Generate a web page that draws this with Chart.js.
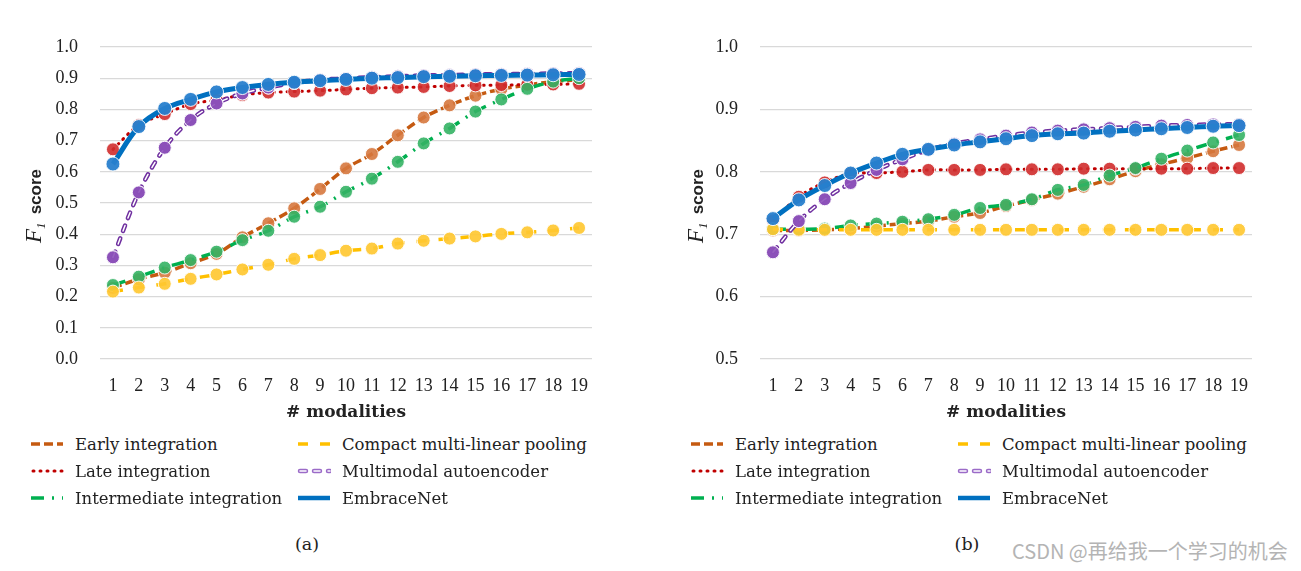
<!DOCTYPE html>
<html>
<head>
<meta charset="utf-8">
<script src="https://cdn.jsdelivr.net/npm/chart.js@4.4.1/dist/chart.umd.min.js"></script>
<style>
  body { margin: 0; width: 1301px; height: 571px; background: #fff; position: relative; overflow: hidden; font-family: 'DejaVu Serif', serif; color: #222; }
  canvas { position: absolute; top: 0; }
  .ytitle { position: absolute; top: 206px; transform: translate(-50%, -50%) rotate(-90deg); white-space: nowrap; }
  .ytitle i { font-family: 'Liberation Serif', serif; font-size: 23px; }
  .ytitle sub { font-family: 'Liberation Serif', serif; font-style: italic; font-size: 13px; }
  .ytitle b { font-family: 'Liberation Sans', sans-serif; font-size: 17px; margin-left: 3px; }
  .legend { position: absolute; top: 434px; }
  .legend .item { position: absolute; display: flex; align-items: center; white-space: nowrap; font-size: 16.5px; height: 20px; }
  .legend svg { margin-right: 11px; }
  .caption { position: absolute; top: 534px; font-size: 17.5px; transform: translateX(-50%); }
  .mark { position: absolute; left: 1012px; top: 536px; font-family: 'Noto Sans CJK SC', sans-serif; font-size: 20px; color: #b4b4b4; white-space: nowrap; }
</style>
</head>
<body>
<canvas id="chartA" width="590" height="430" style="left:20px"></canvas>
<canvas id="chartB" width="590" height="430" style="left:680px"></canvas>
<div class="ytitle" style="left:35px"><i>F</i><sub>1</sub> <b>score</b></div>
<div class="ytitle" style="left:697px"><i>F</i><sub>1</sub> <b>score</b></div>
<div class="legend" id="legendA" style="left:30px"></div>
<div class="legend" id="legendB" style="left:690px"></div>
<div class="caption" style="left:307px">(a)</div>
<div class="caption" style="left:967px">(b)</div>
<div class="mark">CSDN @再给我一个学习的机会</div>
<script>
const modalities = ['1','2','3','4','5','6','7','8','9','10','11','12','13','14','15','16','17','18','19'];
const seriesNames = ['Early integration', 'Late integration', 'Intermediate integration',
  'Compact multi-linear pooling', 'Multimodal autoencoder', 'EmbraceNet'];

// (a)
const earlyA    = [0.228, 0.256, 0.277, 0.307, 0.337, 0.390, 0.435, 0.483, 0.545, 0.611, 0.657, 0.717, 0.774, 0.813, 0.844, 0.865, 0.878, 0.889, 0.895];
const lateA     = [0.672, 0.750, 0.785, 0.817, 0.830, 0.846, 0.854, 0.857, 0.860, 0.864, 0.868, 0.870, 0.872, 0.875, 0.877, 0.878, 0.879, 0.880, 0.882];
const interA    = [0.237, 0.264, 0.293, 0.317, 0.344, 0.381, 0.411, 0.456, 0.488, 0.536, 0.578, 0.632, 0.691, 0.739, 0.793, 0.832, 0.866, 0.889, 0.900];
const compactA  = [0.216, 0.229, 0.241, 0.257, 0.271, 0.287, 0.302, 0.321, 0.333, 0.347, 0.354, 0.370, 0.379, 0.386, 0.393, 0.401, 0.406, 0.412, 0.420];
const autoA     = [0.326, 0.534, 0.677, 0.766, 0.819, 0.851, 0.870, 0.885, 0.895, 0.899, 0.903, 0.906, 0.909, 0.910, 0.912, 0.913, 0.914, 0.915, 0.916];
const embraceA  = [0.625, 0.745, 0.803, 0.832, 0.856, 0.870, 0.880, 0.887, 0.892, 0.896, 0.900, 0.902, 0.905, 0.906, 0.908, 0.909, 0.910, 0.911, 0.912];

// (b)
const earlyB    = [0.706, 0.706, 0.707, 0.709, 0.713, 0.717, 0.721, 0.728, 0.734, 0.745, 0.755, 0.765, 0.776, 0.788, 0.801, 0.812, 0.822, 0.833, 0.843];
const lateB     = [0.722, 0.760, 0.783, 0.797, 0.798, 0.800, 0.803, 0.803, 0.803, 0.804, 0.804, 0.804, 0.805, 0.805, 0.805, 0.805, 0.805, 0.806, 0.806];
const interB    = [0.708, 0.708, 0.709, 0.714, 0.717, 0.720, 0.724, 0.731, 0.742, 0.747, 0.756, 0.771, 0.779, 0.794, 0.806, 0.821, 0.834, 0.847, 0.859];
const compactB  = [0.708, 0.707, 0.707, 0.707, 0.707, 0.707, 0.707, 0.707, 0.707, 0.707, 0.707, 0.707, 0.707, 0.707, 0.707, 0.707, 0.707, 0.707, 0.707];
const autoB     = [0.671, 0.721, 0.756, 0.782, 0.803, 0.820, 0.835, 0.845, 0.852, 0.858, 0.863, 0.866, 0.868, 0.870, 0.872, 0.874, 0.875, 0.876, 0.876];
const embraceB  = [0.725, 0.755, 0.778, 0.798, 0.814, 0.828, 0.836, 0.843, 0.848, 0.853, 0.858, 0.861, 0.862, 0.865, 0.867, 0.869, 0.871, 0.873, 0.874];

const styles = [
  { line: '#C55A11', dot: 'rgba(214,120,62,0.9)',  dash: [9, 4],         width: 3.5, cap: 'butt',  order: 5 },
  { line: '#C00000', dot: 'rgba(208,44,44,0.9)',   dash: [1, 6],         width: 3,   cap: 'round', order: 4 },
  { line: '#00B050', dot: 'rgba(52,178,100,0.9)',  dash: [13, 8, 2, 8],  width: 3.5, cap: 'butt',  order: 3 },
  { line: '#FFC000', dot: 'rgba(255,200,50,0.92)', dash: [10, 12],       width: 3.5, cap: 'butt',  order: 2 },
  { line: '#7030A0', dot: 'rgba(140,80,185,0.9)',  dash: [6, 8],         width: 4.5, cap: 'round', order: 1, double: true },
  { line: '#0070C0', dot: 'rgba(40,128,205,0.95)', dash: [],             width: 5,   cap: 'butt',  order: 0 }
];

// white centre stroke for the double-line series
const doubleLine = {
  id: 'doubleLine',
  afterDatasetDraw(chart, args) {
    const ds = chart.data.datasets[args.index];
    if (!ds.doubleLine) return;
    const line = args.meta.dataset;
    const orig = line.options;
    line.options = Object.assign({}, orig, { borderColor: '#fff', borderWidth: 1.5 });
    line.draw(chart.ctx, chart.chartArea);
    line.options = orig;
    args.meta.data.forEach(p => p.draw(chart.ctx, chart.chartArea));
  }
};

const renderChart = (ctxId, series, yMin) => {
  const ctx = document.getElementById(ctxId).getContext('2d');
  return new Chart(ctx, {
    type: 'line',
    data: {
      labels: modalities,
      datasets: series.map((values, i) => ({
        label: seriesNames[i],
        data: values,
        borderColor: styles[i].line,
        borderWidth: styles[i].width,
        borderDash: styles[i].dash,
        borderCapStyle: styles[i].cap,
        backgroundColor: styles[i].dot,
        pointBackgroundColor: styles[i].dot,
        pointBorderColor: 'rgba(255,255,255,0.9)',
        pointBorderWidth: 1,
        pointRadius: i === 5 ? 7 : 6.5,
        tension: 0.35,
        fill: false,
        order: styles[i].order,
        doubleLine: !!styles[i].double
      }))
    },
    plugins: [doubleLine],
    options: {
      responsive: false,
      animation: false,
      layout: { padding: { top: 47, right: 18, left: 0, bottom: 0 } },
      plugins: { legend: { display: false }, tooltip: { enabled: false } },
      scales: {
        x: {
          offset: true,
          grid: { display: false },
          border: { display: false },
          ticks: { padding: 8, color: '#222', maxRotation: 0, autoSkip: false,
                   font: { family: 'Liberation Serif', size: 18 } },
          title: { display: true, text: '# modalities', color: '#222',
                   font: { family: 'DejaVu Serif', size: 17, weight: 'bold' },
                   padding: { top: 0, bottom: 7 } },
          afterFit: s => { s.height = 71; }
        },
        y: {
          min: yMin,
          max: 1.0,
          grid: { color: '#d9d9d9', lineWidth: 1.3, drawTicks: false },
          border: { display: false },
          ticks: { stepSize: 0.1, padding: 22, color: '#222',
                   font: { family: 'Liberation Serif', size: 18 },
                   callback: v => v.toFixed(1) },
          afterFit: s => { s.width = 80; }
        }
      }
    }
  });
};

const renderLegend = (boxId, chart) => {
  const box = document.getElementById(boxId);
  chart.data.datasets.forEach((ds, i) => {
    const item = document.createElement('div');
    item.className = 'item';
    item.style.left = (Math.floor(i / 3) * 267) + 'px';
    item.style.top = ((i % 3) * 27) + 'px';
    const dash = ds.borderDash.length ? ds.borderDash.join(' ') : 'none';
    const x1 = ds.borderCapStyle === 'round' ? 3 : 1;
    const color = ds.doubleLine ? '#9B6BC8' : ds.borderColor;
    let svg = `<svg width="34" height="10"><line x1="${x1}" y1="5" x2="33" y2="5" stroke="${color}" ` +
      `stroke-width="${Math.min(ds.borderWidth, 4.5)}" stroke-dasharray="${dash}" stroke-linecap="${ds.borderCapStyle}"/>`;
    if (ds.doubleLine) {
      svg += `<line x1="${x1}" y1="5" x2="33" y2="5" stroke="#fff" stroke-width="1.5" stroke-dasharray="${dash}" stroke-linecap="round"/>`;
    }
    svg += '</svg>';
    item.innerHTML = svg + `<span>${ds.label}</span>`;
    box.appendChild(item);
  });
};

const chartA = renderChart('chartA', [earlyA, lateA, interA, compactA, autoA, embraceA], 0);
const chartB = renderChart('chartB', [earlyB, lateB, interB, compactB, autoB, embraceB], 0.5);
renderLegend('legendA', chartA);
renderLegend('legendB', chartB);
</script>
</body>
</html>
